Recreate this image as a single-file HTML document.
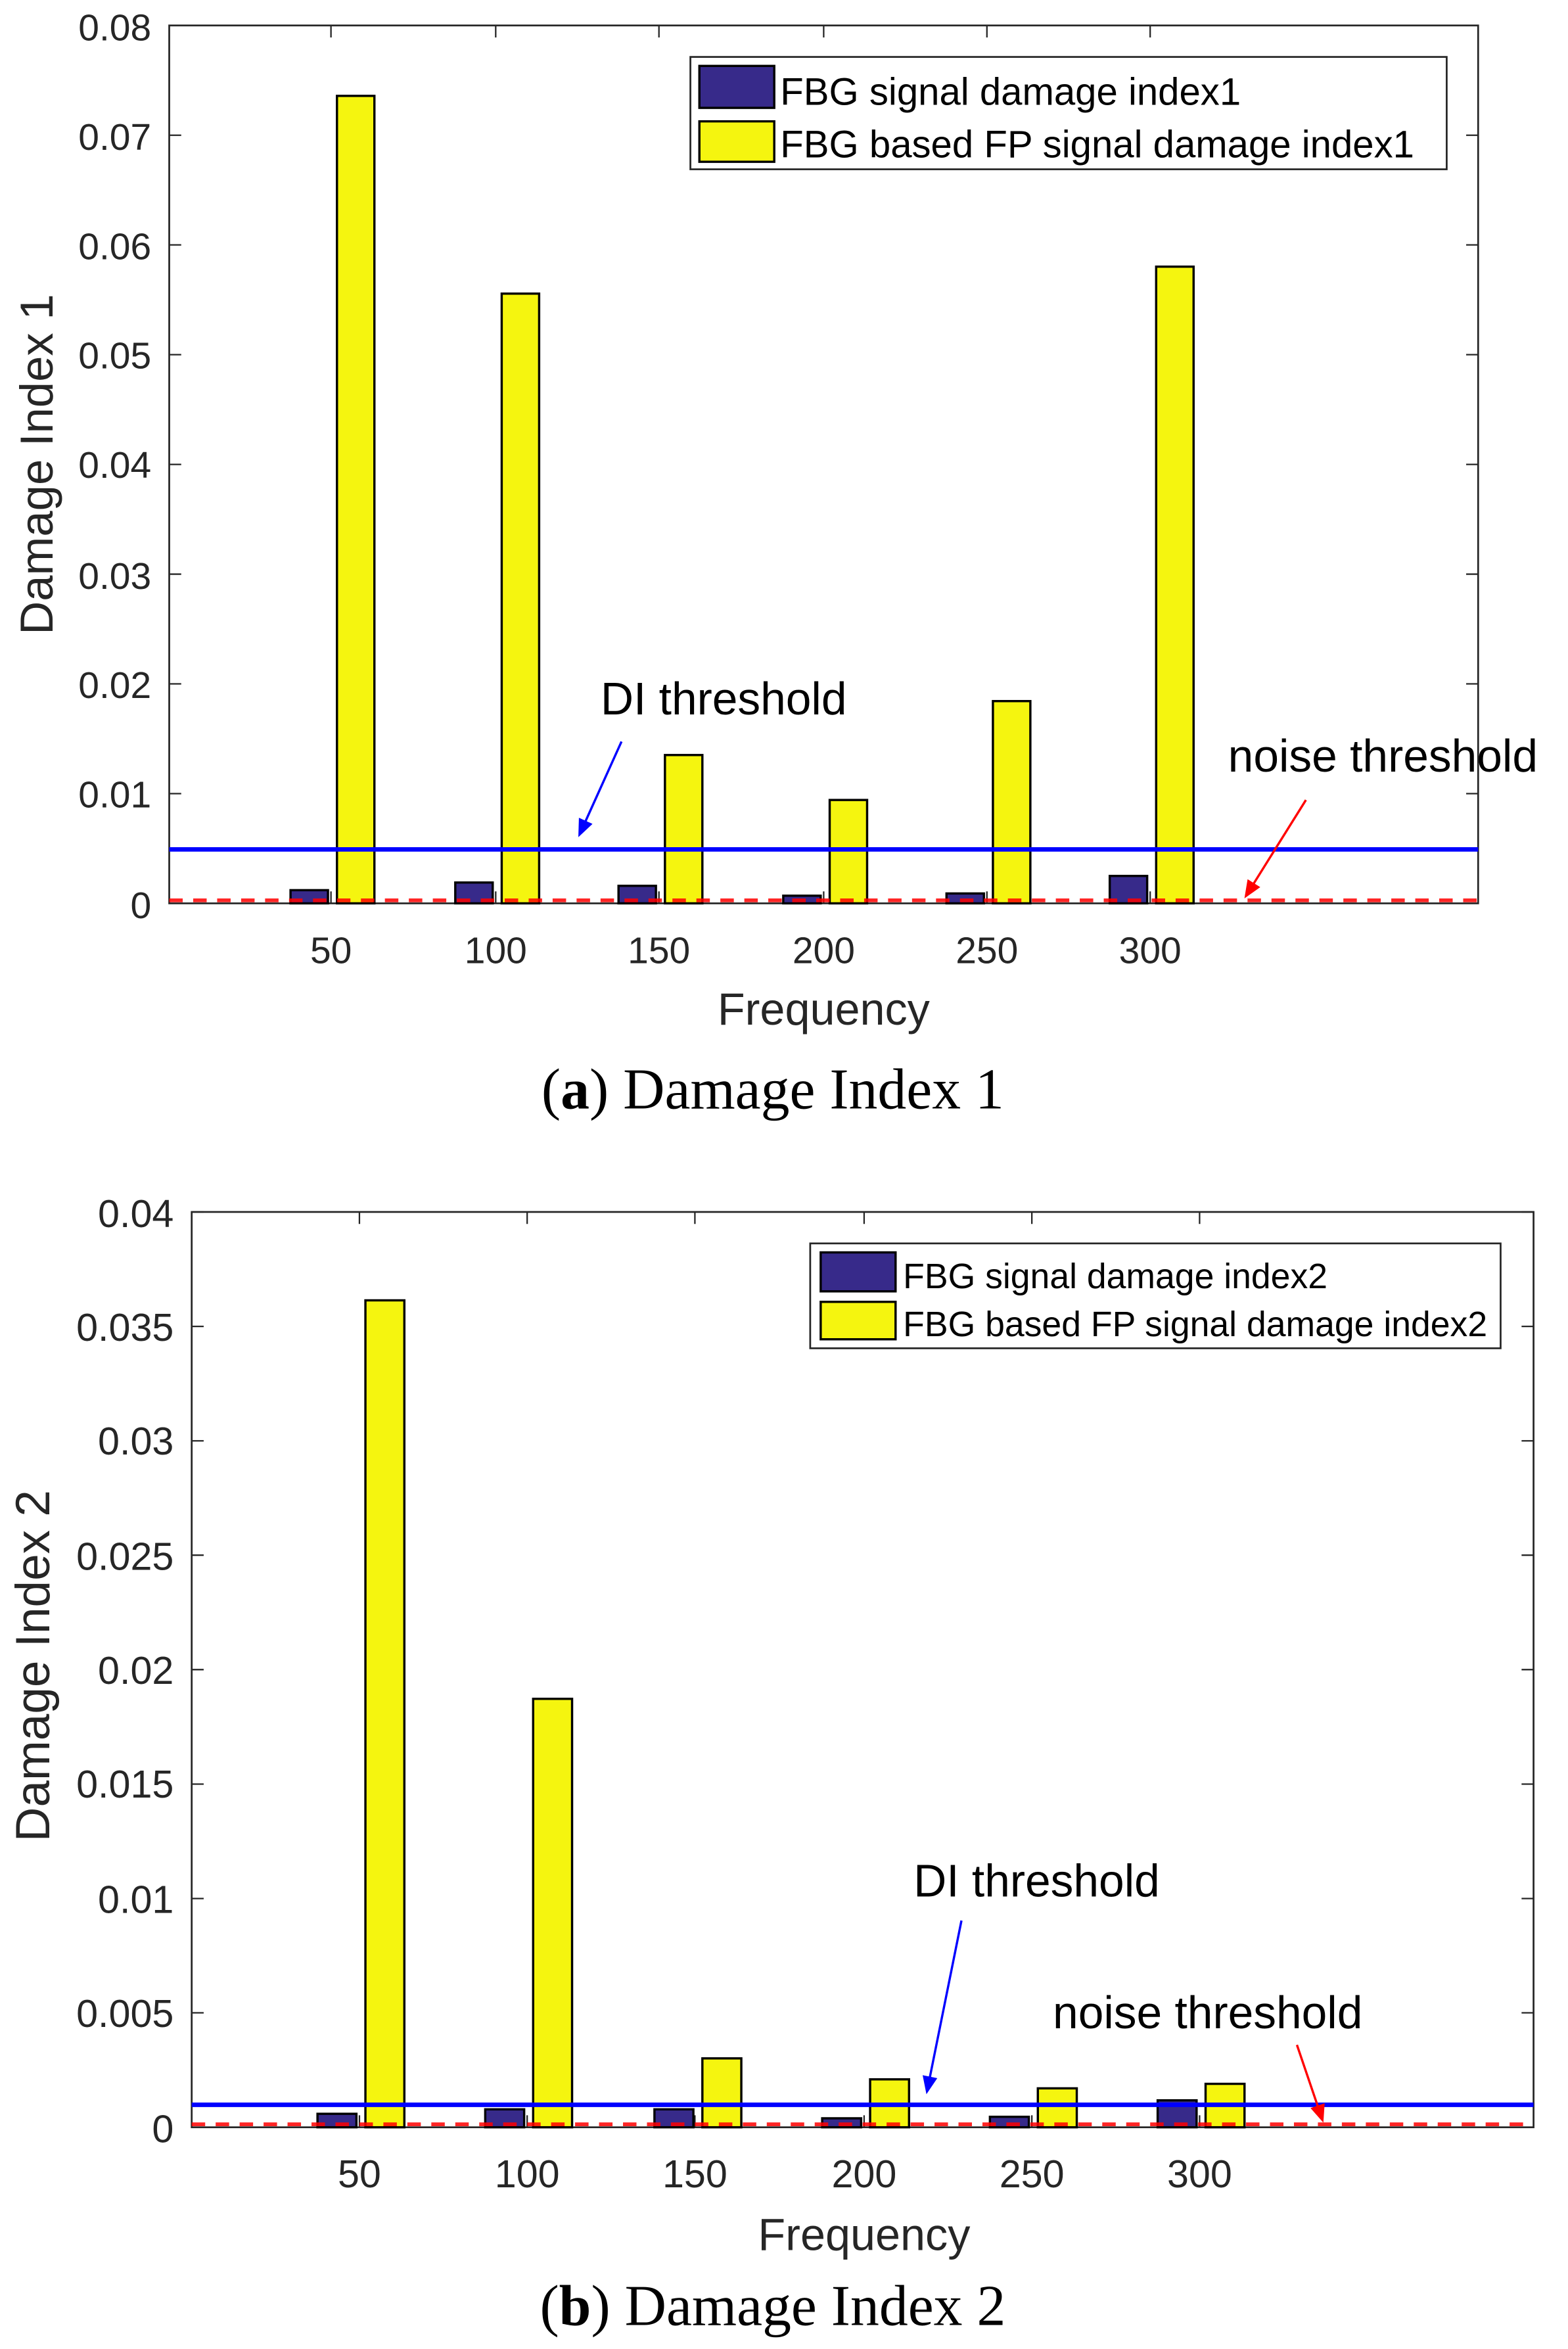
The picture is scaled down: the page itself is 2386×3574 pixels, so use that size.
<!DOCTYPE html>
<html><head><meta charset="utf-8"><style>html,body{margin:0;padding:0;background:#fff}svg{display:block}</style></head>
<body>
<svg width="2386" height="3574" viewBox="0 0 1047 1568" preserveAspectRatio="none" xmlns="http://www.w3.org/2000/svg" font-family="Liberation Sans, sans-serif">
<defs>
<marker id="ab" markerWidth="12" markerHeight="12" refX="10" refY="6" orient="auto" markerUnits="userSpaceOnUse"><path d="M0,1 L12,6 L0,11 z" fill="#00f"/></marker>
<marker id="ar" markerWidth="12" markerHeight="12" refX="10" refY="6" orient="auto" markerUnits="userSpaceOnUse"><path d="M0,1 L12,6 L0,11 z" fill="#f00"/></marker>
</defs>
<rect width="1047" height="1568" fill="#fff"/>
<!-- Chart A -->
<g>
<rect x="113" y="17" width="874" height="586" fill="#fff" stroke="#262626" stroke-width="1.2"/>
<g stroke="#262626" stroke-width="1">
<path d="M113 17h8M113 90.25h8M113 163.5h8M113 236.75h8M113 310h8M113 383.25h8M113 456.5h8M113 529.75h8M987 17h-8M987 90.25h-8M987 163.5h-8M987 236.75h-8M987 310h-8M987 383.25h-8M987 456.5h-8M987 529.75h-8"/>
<path d="M221 603v-8M331 603v-8M440 603v-8M550 603v-8M659 603v-8M768 603v-8M221 17v8M331 17v8M440 17v8M550 17v8M659 17v8M768 17v8"/>
</g>
<g font-size="25" fill="#262626" text-anchor="end">
<text x="101" y="27">0.08</text><text x="101" y="100">0.07</text><text x="101" y="173">0.06</text><text x="101" y="246">0.05</text><text x="101" y="319">0.04</text><text x="101" y="393">0.03</text><text x="101" y="466">0.02</text><text x="101" y="539">0.01</text><text x="101" y="613">0</text>
</g>
<g font-size="25" fill="#262626" text-anchor="middle">
<text x="221" y="643">50</text><text x="331" y="643">100</text><text x="440" y="643">150</text><text x="550" y="643">200</text><text x="659" y="643">250</text><text x="768" y="643">300</text>
</g>
<g stroke="#000" stroke-width="1.5">
<rect x="194" y="594.2" width="25" height="8.8" fill="#372a8a"/>
<rect x="304" y="589.1" width="25" height="13.9" fill="#372a8a"/>
<rect x="413" y="591.3" width="25" height="11.7" fill="#372a8a"/>
<rect x="523" y="597.9" width="25" height="5.1" fill="#372a8a"/>
<rect x="632" y="596.4" width="25" height="6.6" fill="#372a8a"/>
<rect x="741" y="584.7" width="25" height="18.3" fill="#372a8a"/>
<rect x="225" y="64" width="25" height="539" fill="#f5f50f"/>
<rect x="335" y="196" width="25" height="407" fill="#f5f50f"/>
<rect x="444" y="504" width="25" height="99" fill="#f5f50f"/>
<rect x="554" y="534" width="25" height="69" fill="#f5f50f"/>
<rect x="663" y="468" width="25" height="135" fill="#f5f50f"/>
<rect x="772" y="178" width="25" height="425" fill="#f5f50f"/>
</g>
<line x1="113" y1="567" x2="987" y2="567" stroke="#00f" stroke-width="3"/>
<line x1="113" y1="601" x2="987" y2="601" stroke="#f00" stroke-width="2.5" stroke-dasharray="9,7" opacity="0.85"/>
<rect x="461" y="38" width="505" height="75" fill="#fff" stroke="#262626" stroke-width="1.2"/>
<rect x="467" y="44" width="50" height="28" fill="#372a8a" stroke="#000" stroke-width="1.5"/>
<rect x="467" y="81" width="50" height="27" fill="#f5f50f" stroke="#000" stroke-width="1.5"/>
<g font-size="25.5" fill="#000"><text x="521" y="70">FBG signal damage index1</text><text x="521" y="105">FBG based FP signal damage index1</text></g>
<text x="401" y="477" font-size="30.5" fill="#000">DI threshold</text>
<line x1="415" y1="495" x2="387" y2="557" stroke="#00f" stroke-width="1.5" marker-end="url(#ab)"/>
<text x="820" y="515" font-size="30.5" fill="#000">noise threshold</text>
<line x1="872" y1="534" x2="832" y2="598" stroke="#f00" stroke-width="1.5" marker-end="url(#ar)"/>
<text transform="translate(35,310) rotate(-90)" font-size="31" fill="#262626" text-anchor="middle">Damage Index 1</text>
<text x="550" y="684" font-size="30" fill="#262626" text-anchor="middle">Frequency</text>
<text x="516" y="740" font-size="38.5" fill="#000" text-anchor="middle" font-family="Liberation Serif, serif">(<tspan font-weight="bold">a</tspan>) Damage Index 1</text>
</g>
<!-- Chart B -->
<g>
<rect x="128" y="809" width="896" height="611" fill="#fff" stroke="#262626" stroke-width="1.2"/>
<g stroke="#262626" stroke-width="1">
<path d="M128 809h8M128 885.4h8M128 961.8h8M128 1038.1h8M128 1114.5h8M128 1190.9h8M128 1267.3h8M128 1343.6h8M1024 809h-8M1024 885.4h-8M1024 961.8h-8M1024 1038.1h-8M1024 1114.5h-8M1024 1190.9h-8M1024 1267.3h-8M1024 1343.6h-8"/>
<path d="M240 1420v-8M352 1420v-8M464 1420v-8M577 1420v-8M689 1420v-8M801 1420v-8M240 809v8M352 809v8M464 809v8M577 809v8M689 809v8M801 809v8"/>
</g>
<g font-size="26" fill="#262626" text-anchor="end">
<text x="116" y="819">0.04</text><text x="116" y="895">0.035</text><text x="116" y="971">0.03</text><text x="116" y="1048">0.025</text><text x="116" y="1124">0.02</text><text x="116" y="1200">0.015</text><text x="116" y="1277">0.01</text><text x="116" y="1353">0.005</text><text x="116" y="1430">0</text>
</g>
<g font-size="26" fill="#262626" text-anchor="middle">
<text x="240" y="1460">50</text><text x="352" y="1460">100</text><text x="464" y="1460">150</text><text x="577" y="1460">200</text><text x="689" y="1460">250</text><text x="801" y="1460">300</text>
</g>
<g stroke="#000" stroke-width="1.5">
<rect x="212" y="1411" width="26" height="9" fill="#372a8a"/>
<rect x="324" y="1408" width="26" height="12" fill="#372a8a"/>
<rect x="437" y="1408" width="26" height="12" fill="#372a8a"/>
<rect x="549" y="1414" width="26" height="6" fill="#372a8a"/>
<rect x="661" y="1413" width="26" height="7" fill="#372a8a"/>
<rect x="773" y="1402" width="26" height="18" fill="#372a8a"/>
<rect x="244" y="868" width="26" height="552" fill="#f5f50f"/>
<rect x="356" y="1134" width="26" height="286" fill="#f5f50f"/>
<rect x="469" y="1374" width="26" height="46" fill="#f5f50f"/>
<rect x="581" y="1388" width="26" height="32" fill="#f5f50f"/>
<rect x="693" y="1394" width="26" height="26" fill="#f5f50f"/>
<rect x="805" y="1391" width="26" height="29" fill="#f5f50f"/>
</g>
<line x1="128" y1="1405" x2="1024" y2="1405" stroke="#00f" stroke-width="3"/>
<line x1="128" y1="1418" x2="1024" y2="1418" stroke="#f00" stroke-width="2.5" stroke-dasharray="9,7" opacity="0.85"/>
<rect x="541" y="830" width="461" height="70" fill="#fff" stroke="#262626" stroke-width="1.2"/>
<rect x="548" y="836" width="50" height="26" fill="#372a8a" stroke="#000" stroke-width="1.5"/>
<rect x="548" y="869" width="50" height="25" fill="#f5f50f" stroke="#000" stroke-width="1.5"/>
<g font-size="23.5" fill="#000"><text x="603" y="860">FBG signal damage index2</text><text x="603" y="892">FBG based FP signal damage index2</text></g>
<text x="610" y="1266" font-size="30.5" fill="#000">DI threshold</text>
<line x1="642" y1="1282" x2="619" y2="1396" stroke="#00f" stroke-width="1.5" marker-end="url(#ab)"/>
<text x="703" y="1354" font-size="30.5" fill="#000">noise threshold</text>
<line x1="866" y1="1365" x2="883" y2="1415" stroke="#f00" stroke-width="1.5" marker-end="url(#ar)"/>
<text transform="translate(33,1112) rotate(-90)" font-size="32" fill="#262626" text-anchor="middle">Damage Index 2</text>
<text x="577" y="1502" font-size="30" fill="#262626" text-anchor="middle">Frequency</text>
<text x="516" y="1552" font-size="38.5" fill="#000" text-anchor="middle" font-family="Liberation Serif, serif">(<tspan font-weight="bold">b</tspan>) Damage Index 2</text>
</g>
</svg>
</body></html>
